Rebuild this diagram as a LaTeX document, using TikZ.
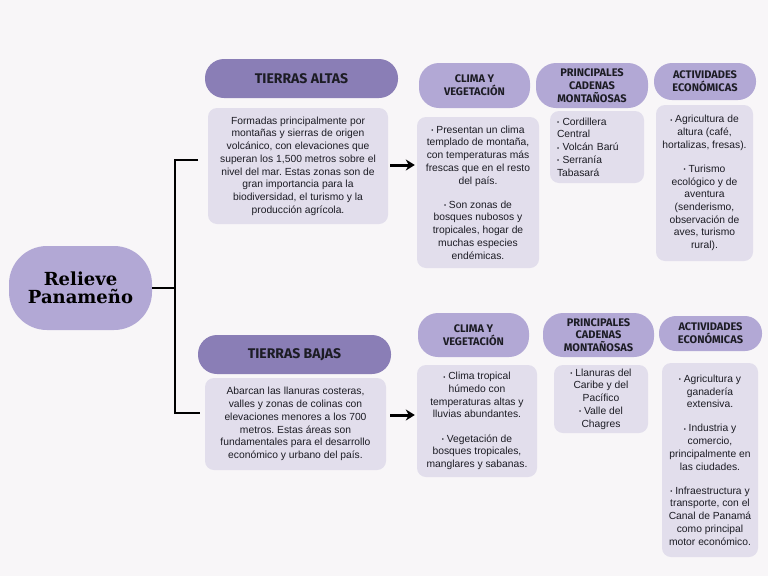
\documentclass[tikz,border=0pt]{standalone}
\usepackage{fontspec}
\setmainfont{Liberation Sans}
\newfontfamily\headfont{Fira Sans}
\newfontfamily\rootfont{DejaVu Serif}
\usetikzlibrary{arrows.meta}
\frenchspacing
\definecolor{bg}{HTML}{F8F6F8}
\definecolor{darkhd}{HTML}{8A7EB6}
\definecolor{midhd}{HTML}{B2A8D5}
\definecolor{pale}{HTML}{E2DEEC}
\definecolor{ink}{HTML}{1C1C24}
\newcommand\bl{{\fontsize{6}{6}\selectfont\raisebox{0.5pt}{•}}\ }
\tikzset{
  bodybox/.style={fill=pale, rounded corners=9pt, inner sep=0pt, align=center, text=ink,
    font=\frenchspacing\fontsize{10.3}{12.7}\selectfont},
  bighead/.style={fill=darkhd, rounded corners=19pt, inner sep=0pt, text=ink,
    font=\headfont\bfseries\fontsize{14}{15}\selectfont},
  smallhead/.style={fill=midhd, rounded corners=20pt, inner sep=0pt, align=center, text=ink,
    font=\headfont\bfseries\fontsize{11}{12.8}\selectfont},
  rootbox/.style={fill=midhd, rounded corners=38pt, inner sep=0pt, align=center, text=black,
    font=\rootfont\bfseries\fontsize{18}{18}\selectfont},
  conn/.style={draw=black, line width=1.4pt},
  arr/.style={draw=black, line width=3pt, -{Stealth[length=9pt,width=11pt]}}
}
\begin{document}
\begin{tikzpicture}[x=1pt,y=-1pt]
\fill[bg] (0,0) rectangle (768,576);
\useasboundingbox (0,0) rectangle (768,576);

% root
\node[rootbox, minimum width=143pt, minimum height=84pt] (root) at (80.5,288) {Relieve\\Panameño};

% Tierras altas
\node[bighead, minimum width=193pt, minimum height=39pt] (tah) at (301.5,78.5) {TIERRAS ALTAS};
\node[bodybox, minimum width=180pt, minimum height=116pt] (tab) at (298,166) {Formadas principalmente por\\
montañas y sierras de origen\\
volcánico, con elevaciones que\\
superan los 1,500 metros sobre el\\
nivel del mar. Estas zonas son de\\
gran importancia para la\\
biodiversidad, el turismo y la\\
producción agrícola.};

\node[smallhead, minimum width=111pt, minimum height=45pt] (c1h) at (474.5,85.5) {CLIMA Y\\VEGETACIÓN};
\node[bodybox, minimum width=122pt, minimum height=151pt] (c1b) at (478,192.5) {\bl Presentan un clima\\ templado de montaña,\\ con temperaturas más\\ frescas que en el resto\\ del país.\\[11.5pt] \bl Son zonas de\\ bosques nubosos y\\ tropicales, hogar de\\ muchas especies\\ endémicas.};

\node[smallhead, minimum width=112pt, minimum height=45pt] (p1h) at (592,85.5) {PRINCIPALES\\CADENAS\\MONTAÑOSAS};
\node[bodybox, align=left, text width=80pt, inner xsep=7pt, minimum height=72pt] (p1b) at (597,147) {\bl Cordillera\\ Central\\ \bl Volcán Barú\\ \bl Serranía\\ Tabasará};

\node[smallhead, minimum width=102pt, minimum height=37pt, rounded corners=18pt] (a1h) at (705,81.5) {ACTIVIDADES\\ECONÓMICAS};
\node[bodybox, minimum width=97pt, minimum height=156pt] (a1b) at (704.5,183) {\bl Agricultura de\\ altura (café,\\ hortalizas, fresas).\\[11.5pt] \bl Turismo\\ ecológico y de\\ aventura\\ (senderismo,\\ observación de\\ aves, turismo\\ rural).};

% Tierras bajas
\node[bighead, minimum width=193pt, minimum height=39pt] (tbh) at (294.5,354.5) {TIERRAS BAJAS};
\node[bodybox, minimum width=181pt, minimum height=92pt] (tbb) at (295.5,424) {Abarcan las llanuras costeras,\\ valles y zonas de colinas con\\ elevaciones menores a los 700\\ metros. Estas áreas son\\ fundamentales para el desarrollo\\ económico y urbano del país.};

\node[smallhead, minimum width=111pt, minimum height=44pt] (c2h) at (473.5,335) {CLIMA Y\\VEGETACIÓN};
\node[bodybox, minimum width=120pt, minimum height=112pt] (c2b) at (477,421) {\bl Clima tropical\\ húmedo con\\ temperaturas altas y\\ lluvias abundantes.\\[11.5pt] \bl Vegetación de\\ bosques tropicales,\\ manglares y sabanas.};

\node[smallhead, minimum width=111pt, minimum height=44pt] (p2h) at (598.5,335) {PRINCIPALES\\CADENAS\\MONTAÑOSAS};
\node[bodybox, minimum width=94pt, minimum height=68pt] (p2b) at (601,399) {\bl Llanuras del\\ Caribe y del\\ Pacífico\\ \bl Valle del\\ Chagres};

\node[smallhead, minimum width=103pt, minimum height=35pt, rounded corners=17pt] (a2h) at (710.5,333.5) {ACTIVIDADES\\ECONÓMICAS};
\node[bodybox, minimum width=96pt, minimum height=194pt] (a2b) at (710,460) {\bl Agricultura y\\ ganadería\\ extensiva.\\[11.5pt] \bl Industria y\\ comercio,\\ principalmente en\\ las ciudades.\\[11.5pt] \bl Infraestructura y\\ transporte, con el\\ Canal de Panamá\\ como principal\\ motor económico.};

% connectors
\coordinate (ju) at (175,160);
\coordinate (jd) at (175,413);
\coordinate (tu) at (198,160);
\coordinate (td) at (200,413);
\draw[conn] (tu) -- (ju) -- (jd) -- (td);
\draw[conn] (root.east) -- (root.east -| ju);

\draw[arr] ([xshift=2pt,yshift=1pt]tab.east) -- ([xshift=-2pt]c1b.west |- 0,165);
\draw[arr] ([xshift=4pt,yshift=9pt]tbb.east) -- ([xshift=-2pt]c2b.west |- 0,415);
\end{tikzpicture}
\end{document}
